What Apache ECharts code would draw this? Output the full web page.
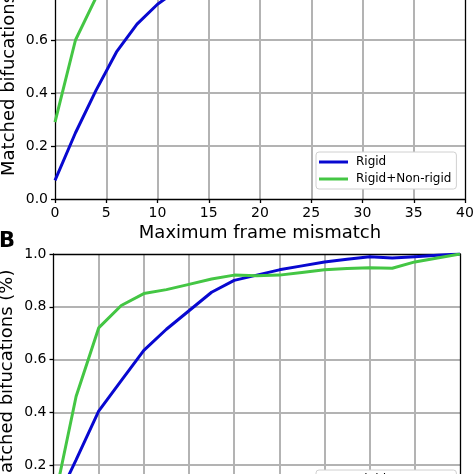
<!DOCTYPE html>
<html>
<head>
<meta charset="utf-8">
<script src="https://cdn.jsdelivr.net/npm/echarts@6/dist/echarts.min.js"></script>
<style>
html,body{margin:0;padding:0;background:#fff;overflow:hidden;width:474px;height:474px;}
#chart{position:absolute;left:0;top:-66px;width:474px;height:584px;}
</style>
</head>
<body>
<div id="chart"></div>
<script>
// Panel A (top)
var topX = [0, 2, 4, 6, 8, 10, 12, 14, 16, 20, 25, 30, 35, 40];
var topRigid = [0.07, 0.25, 0.41, 0.555, 0.66, 0.735, 0.79, 0.83, 0.86, 0.90, 0.93, 0.96, 0.98, 1.0];
var topNonRigid = [0.29, 0.60, 0.76, 0.82, 0.87, 0.90, 0.92, 0.93, 0.94, 0.95, 0.96, 0.97, 0.98, 1.0];
// Panel B (bottom)
var botX = [0, 2.5, 5, 7.5, 10, 12.5, 15, 17.5, 20, 22.5, 25, 27.5, 30, 32.5, 35, 37.5, 40, 42.5, 45];
var botRigid = [0.04, 0.22, 0.405, 0.52, 0.635, 0.715, 0.785, 0.855, 0.90, 0.92, 0.94, 0.955, 0.97, 0.98, 0.99, 0.985, 0.99, 0.995, 1.0];
var botNonRigid = [0.05, 0.46, 0.72, 0.805, 0.85, 0.865, 0.885, 0.905, 0.92, 0.918, 0.92, 0.93, 0.94, 0.945, 0.948, 0.946, 0.97, 0.985, 1.0];
var seriesNames = ['Rigid', 'Rigid+Non-rigid'];
var xName = 'Maximum frame mismatch';
var yName = 'Matched bifucations (%)';
var panelLabel = 'B';

function pairs(xs, ys) { return xs.map(function (x, i) { return [x, ys[i]]; }); }

var FONT = 'DejaVu Sans';
var BLUE = '#0808d0';
var GREEN = '#44c644';
var GRIDC = '#b3b3b3';

function mainX(gi, max, showLabels, name) {
  return {
    type: 'value', gridIndex: gi, position: 'bottom', min: 0, max: max, interval: 5,
    name: name || '', nameLocation: 'middle', nameGap: 25,
    nameTextStyle: { fontFamily: FONT, fontSize: 18, color: '#000' },
    axisLine: { show: true, onZero: false, lineStyle: { color: '#000', width: 1.3 } },
    axisTick: { show: true, length: 4, lineStyle: { color: '#000', width: 1.3 } },
    axisLabel: { show: showLabels, margin: 7, fontFamily: FONT, fontSize: 14, color: '#000' },
    splitLine: { show: true, showMinLine: false, showMaxLine: false, lineStyle: { color: GRIDC, width: 2 } },
    z: 1
  };
}
function mainY(gi, pad) {
  return {
    type: 'value', gridIndex: gi, position: 'left', min: 0, max: 1, interval: 0.2,
    name: yName, nameLocation: 'middle', nameGap: 37, nameRotate: 90, nameMoveOverlap: false,
    nameTextStyle: { fontFamily: FONT, fontSize: 18, color: '#000', padding: pad },
    axisLine: { show: true, onZero: false, lineStyle: { color: '#000', width: 1.3 } },
    axisTick: { show: true, length: 4, lineStyle: { color: '#000', width: 1.3 } },
    axisLabel: { margin: 7, fontFamily: FONT, fontSize: 14, color: '#000', formatter: function (v) { return v.toFixed(1); } },
    splitLine: { show: true, showMinLine: false, showMaxLine: false, lineStyle: { color: GRIDC, width: 2 } },
    z: 1
  };
}
function spine(gi, pos, max) {
  return {
    type: 'value', gridIndex: gi, position: pos, min: 0, max: max,
    axisLine: { show: true, onZero: false, lineStyle: { color: '#000', width: 1.3 } },
    axisTick: { show: false }, axisLabel: { show: false }, splitLine: { show: false },
    z: 3
  };
}

var legendCommon = {
  orient: 'vertical', itemWidth: 29, itemHeight: 3, itemGap: 5, icon: 'rect',
  backgroundColor: '#fff', borderColor: '#d0d0d0', borderWidth: 1, borderRadius: 3,
  padding: [4, 5, 4, 3],
  textStyle: { fontFamily: FONT, fontSize: 12, color: '#000', padding: [0, 0, 0, 3] },
  data: seriesNames, selectedMode: false, z: 10
};

// container is offset by 66px upward; all positions below are in container coords
var option = {
  animation: false,
  backgroundColor: '#fff',
  grid: [
    { left: 55, right: 9, top: 0, height: 265, containLabel: false, outerBoundsMode: 'none' },
    { left: 53.5, right: 14, top: 320, height: 264, containLabel: false, outerBoundsMode: 'none' }
  ],
  xAxis: [
    mainX(0, 40, true, xName),
    mainX(1, 45, true, ''),
    spine(1, 'top', 45)
  ],
  yAxis: [
    mainY(0, [0, 0, 0, 0]),
    spine(0, 'right', 1),
    mainY(1, [0, 0, 0, 14]),
    spine(1, 'right', 1)
  ],
  legend: [
    Object.assign({}, legendCommon, { left: 316, top: 218 }),
    Object.assign({}, legendCommon, { left: 316, top: 536 })
  ],
  graphic: [
    { type: 'text', left: -1, top: 297, style: { text: panelLabel, font: 'bold 21px "DejaVu Sans"', fill: '#000' } }
  ],
  series: [
    { name: seriesNames[0], type: 'line', xAxisIndex: 0, yAxisIndex: 0, data: pairs(topX, topRigid), showSymbol: false, lineStyle: { color: BLUE, width: 3 }, itemStyle: { color: BLUE }, z: 5 },
    { name: seriesNames[1], type: 'line', xAxisIndex: 0, yAxisIndex: 0, data: pairs(topX, topNonRigid), showSymbol: false, lineStyle: { color: GREEN, width: 3 }, itemStyle: { color: GREEN }, z: 5 },
    { name: seriesNames[0], type: 'line', xAxisIndex: 1, yAxisIndex: 2, data: pairs(botX, botRigid), showSymbol: false, lineStyle: { color: BLUE, width: 3 }, itemStyle: { color: BLUE }, z: 5 },
    { name: seriesNames[1], type: 'line', xAxisIndex: 1, yAxisIndex: 2, data: pairs(botX, botNonRigid), showSymbol: false, lineStyle: { color: GREEN, width: 3 }, itemStyle: { color: GREEN }, z: 5 }
  ]
};

var chart = echarts.init(document.getElementById('chart'), null, { renderer: 'canvas' });
chart.setOption(option);
</script>
</body>
</html>
